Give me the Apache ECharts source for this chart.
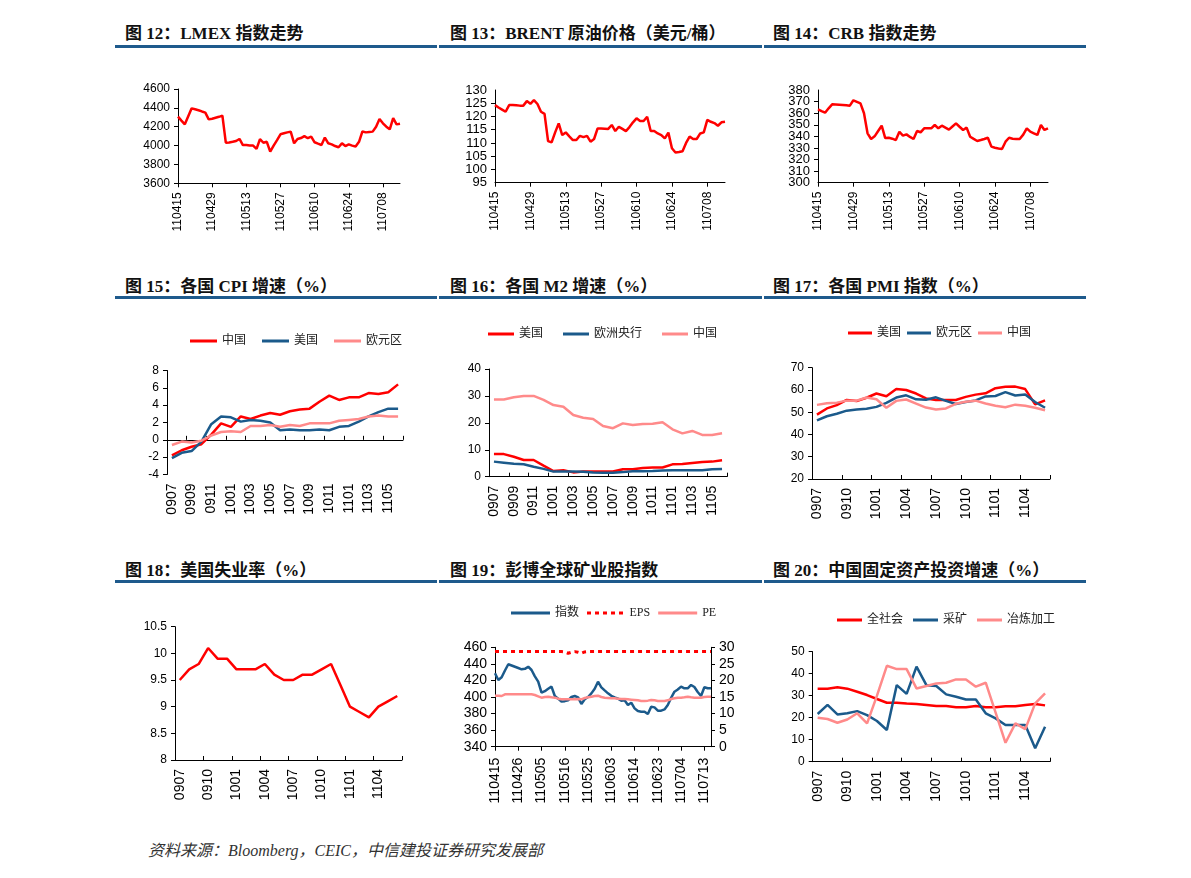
<!DOCTYPE html>
<html>
<head>
<meta charset="utf-8">
<title>商品与宏观指标走势</title>
<script src="https://cdn.jsdelivr.net/npm/echarts@6/dist/echarts.min.js"></script>
<style>
    html, body { margin: 0; padding: 0; background: #fff; }
    #page { position: relative; width: 1191px; height: 878px; overflow: hidden; }
    .title {
        position: absolute; white-space: nowrap; line-height: 18px; color: #111;
        font: bold 17px "Liberation Serif", "Noto Sans CJK SC", serif;
    }
    .rule { position: absolute; height: 3px; background: #1e5a8c; }
    .chart { position: absolute; }
    .note {
        position: absolute; left: 148px; top: 837px; line-height: 18px; color: #333;
        font: italic 16px "Liberation Serif", "Noto Sans CJK SC", serif;
    }
</style>
</head>
<body>
<div id="page">
    <div class="title" style="left:125px;top:19px">图 12：LMEX 指数走势</div>
    <div class="title" style="left:450px;top:19px">图 13：BRENT 原油价格（美元/桶）</div>
    <div class="title" style="left:773px;top:19px">图 14：CRB 指数走势</div>
    <div class="rule" style="left:115px;top:45px;width:322px"></div>
    <div class="rule" style="left:439px;top:45px;width:323px"></div>
    <div class="rule" style="left:764px;top:45px;width:322px"></div>

    <div class="title" style="left:125px;top:272px">图 15：各国 CPI 增速（%）</div>
    <div class="title" style="left:450px;top:272px">图 16：各国 M2 增速（%）</div>
    <div class="title" style="left:773px;top:272px">图 17：各国 PMI 指数（%）</div>
    <div class="rule" style="left:115px;top:296px;width:322px"></div>
    <div class="rule" style="left:439px;top:296px;width:323px"></div>
    <div class="rule" style="left:764px;top:296px;width:322px"></div>

    <div class="title" style="left:125px;top:556px">图 18：美国失业率（%）</div>
    <div class="title" style="left:450px;top:556px">图 19：彭博全球矿业股指数</div>
    <div class="title" style="left:773px;top:556px">图 20：中国固定资产投资增速（%）</div>
    <div class="rule" style="left:115px;top:580px;width:322px"></div>
    <div class="rule" style="left:439px;top:580px;width:323px"></div>
    <div class="rule" style="left:764px;top:580px;width:322px"></div>

    <div class="chart" id="c12" style="left:115px;top:50px;width:320px;height:200px"></div>
    <div class="chart" id="c13" style="left:440px;top:50px;width:320px;height:200px"></div>
    <div class="chart" id="c14" style="left:765px;top:50px;width:320px;height:200px"></div>
    <div class="chart" id="c15" style="left:115px;top:300px;width:320px;height:230px"></div>
    <div class="chart" id="c16" style="left:440px;top:300px;width:320px;height:230px"></div>
    <div class="chart" id="c17" style="left:765px;top:300px;width:320px;height:230px"></div>
    <div class="chart" id="c18" style="left:115px;top:585px;width:320px;height:240px"></div>
    <div class="chart" id="c19" style="left:440px;top:585px;width:320px;height:240px"></div>
    <div class="chart" id="c20" style="left:765px;top:585px;width:320px;height:240px"></div>

    <div class="note">资料来源：Bloomberg，CEIC，中信建投证券研究发展部</div>
</div>
<script>
(function () {
    'use strict';

    /* ------------------------------------------------------------------ */
    /*  Data                                                               */
    /* ------------------------------------------------------------------ */

    // Trading days (weekdays) 2011-04-15 .. 2011-07-15
    var DAYS = [
        '110415', '110418', '110419', '110420', '110421', '110422', '110425', '110426', '110427', '110428', '110429',
        '110502', '110503', '110504', '110505', '110506', '110509', '110510', '110511', '110512', '110513',
        '110516', '110517', '110518', '110519', '110520', '110523', '110524', '110525', '110526', '110527',
        '110530', '110531', '110601', '110602', '110603', '110606', '110607', '110608', '110609', '110610',
        '110613', '110614', '110615', '110616', '110617', '110620', '110621', '110622', '110623', '110624',
        '110627', '110628', '110629', '110630', '110701', '110704', '110705', '110706', '110707', '110708',
        '110711', '110712', '110713', '110714', '110715'
    ];

    var MONTHS = [
        '0907', '0908', '0909', '0910', '0911', '0912', '1001', '1002', '1003', '1004', '1005', '1006',
        '1007', '1008', '1009', '1010', '1011', '1012', '1101', '1102', '1103', '1104', '1105', '1106'
    ];

    var LMEX = [
        4307, 4265, 4225, 4310, 4395, 4385, 4375, 4362, 4350, 4278,
        4285, 4295, 4305, 4317, 4031, 4033, 4040, 4048, 4070, 4006,
        4005, 4000, 4000, 3965, 4068, 4030, 4040, 3935, 4000, 4058,
        4120, 4130, 4140, 4148, 4024, 4070, 4080, 4100, 4078, 4095,
        4035, 4020, 4006, 4085, 4024, 4013, 3995, 3982, 4024, 3995,
        4013, 4000, 3990, 4040, 4150, 4140, 4145, 4148, 4200, 4282,
        4236, 4200, 4172, 4290, 4225, 4232
    ];

    var BRENT = [
        124.3, 123.4, 122.6, 121.8, 124.3, 124.3, 124.2, 124.1, 124.1, 125.8,
        124.8, 126.2, 124.7, 121.8, 121.0, 110.7, 110.2, 114.0, 117.4, 113.0,
        114.0, 112.5, 111.1, 111.1, 112.7, 112.2, 112.7, 110.5, 111.5, 115.5,
        115.5, 115.4, 115.3, 116.8, 114.5, 116.1, 115.3, 114.5, 116.0, 117.8,
        119.3, 118.3, 118.3, 119.9, 114.5, 114.5, 113.6, 113.0, 111.7, 113.9,
        108.0, 106.4, 106.6, 106.9, 110.0, 112.4, 111.5, 111.5, 113.6, 114.0,
        118.7, 118.0, 117.5, 116.5, 117.8, 118.0
    ];

    var CRB = [
        363.3, 361.8, 360.4, 364.2, 367.6, 367.4, 367.2, 367.0, 366.8, 366.5,
        371.1, 369.8, 368.5, 359.9, 342.6, 337.7, 340.0, 344.6, 349.2, 338.5,
        338.8, 338.0, 336.8, 344.0, 340.6, 341.7, 339.5, 337.7, 344.6, 343.5,
        346.9, 346.9, 346.9, 349.8, 346.9, 349.2, 347.5, 345.8, 348.5, 351.2,
        348.3, 345.5, 347.5, 339.7, 337.8, 336.0, 336.8, 337.7, 338.8, 331.1,
        330.2, 329.6, 329.1, 335.4, 338.8, 338.0, 337.7, 337.7, 341.5, 346.9,
        344.0, 342.6, 341.2, 349.8, 345.5, 346.9
    ];

    var CPI_CN = [-1.8, -1.2, -0.8, -0.5, 0.6, 1.9, 1.5, 2.7, 2.4, 2.8, 3.1, 2.9,
                  3.3, 3.5, 3.6, 4.4, 5.1, 4.6, 4.9, 4.9, 5.4, 5.3, 5.5, 6.4];
    var CPI_US = [-2.1, -1.5, -1.3, -0.2, 1.8, 2.7, 2.6, 2.1, 2.3, 2.2, 2.0, 1.1,
                  1.2, 1.1, 1.1, 1.2, 1.1, 1.5, 1.6, 2.1, 2.7, 3.2, 3.6, 3.6];
    var CPI_EZ = [-0.6, -0.2, -0.3, -0.1, 0.5, 0.9, 1.0, 0.9, 1.6, 1.6, 1.7, 1.5,
                  1.7, 1.6, 1.9, 1.9, 1.9, 2.2, 2.3, 2.4, 2.7, 2.8, 2.7, 2.7];

    var M2_US = [8.4, 8.4, 7.4, 6.2, 6.2, 4.1, 2.1, 2.4, 1.6, 1.9, 1.9, 1.9,
                 1.9, 2.8, 2.8, 3.2, 3.4, 3.4, 4.6, 4.7, 5.1, 5.5, 5.6, 6.1];
    var M2_ECB = [5.6, 5.2, 4.8, 4.6, 3.7, 2.9, 1.9, 1.9, 1.9, 1.8, 1.6, 1.5,
                  1.5, 1.7, 2.0, 2.0, 2.1, 2.3, 2.4, 2.4, 2.4, 2.4, 2.8, 2.9];
    var M2_CN = [28.7, 28.7, 29.5, 30.0, 30.0, 28.5, 26.6, 26.0, 22.9, 21.9, 21.4, 18.8,
                 18.0, 19.8, 19.2, 19.6, 19.7, 20.2, 17.6, 16.1, 17.0, 15.5, 15.5, 16.1];

    var PMI_US = [48.9, 51.7, 53.2, 55.5, 55.0, 56.5, 58.4, 57.2, 60.4, 60.0, 58.4, 56.2,
                  55.5, 55.5, 55.5, 56.9, 57.9, 58.5, 60.8, 61.4, 61.5, 60.4, 53.5, 55.3];
    var PMI_EZ = [46.3, 48.2, 49.3, 50.7, 51.2, 51.6, 52.4, 54.2, 56.6, 57.6, 55.8, 55.6,
                  56.7, 55.1, 53.7, 54.6, 55.3, 57.1, 57.3, 59.0, 57.5, 58.0, 54.6, 52.0];
    var PMI_CN = [53.3, 54.0, 54.3, 55.2, 55.2, 56.6, 55.8, 52.0, 55.1, 55.7, 53.9, 52.1,
                  51.2, 51.7, 53.8, 54.7, 55.2, 53.9, 52.9, 52.2, 53.4, 52.9, 52.0, 50.9];

    var UNEMP_US = [9.5, 9.7, 9.8, 10.1, 9.9, 9.9, 9.7, 9.7, 9.7, 9.8, 9.6, 9.5,
                    9.5, 9.6, 9.6, 9.7, 9.8, 9.4, 9.0, 8.9, 8.8, 9.0, 9.1, 9.2];

    var MINING_IDX = [
        428.6, 420.5, 423.8, 432.0, 439.5, 438.0, 436.5, 435.0, 433.4, 434.0,
        436.6, 432.6, 425.0, 418.5, 405.2, 407.0, 410.0, 412.5, 401.2, 398.0,
        394.4, 395.0, 396.0, 400.0, 401.2, 399.6, 391.5, 397.2, 400.0, 404.4,
        410.0, 418.5, 411.7, 408.0, 404.4, 401.5, 399.6, 398.0, 395.6, 396.0,
        390.3, 393.1, 386.3, 383.0, 382.3, 382.3, 379.5, 388.3, 387.5, 383.5,
        383.5, 385.0, 390.3, 399.0, 406.4, 409.0, 412.5, 410.5, 410.5, 414.5,
        412.0, 406.0, 401.2, 411.7, 410.5, 410.5
    ];
    var MINING_EPS = [
        28.7, 28.7, 28.7, 28.7, 28.7, 28.7, 28.7, 28.7, 28.7, 28.7,
        28.7, 28.7, 28.7, 28.7, 28.7, 28.7, 28.7, 28.7, 28.7, 28.7,
        28.7, 28.6, 28.2, 28.5, 28.7, 28.5, 28.2, 28.6, 28.7, 28.7,
        28.7, 28.7, 28.7, 28.7, 28.7, 28.7, 28.7, 28.7, 28.7, 28.7,
        28.7, 28.7, 28.7, 28.7, 28.7, 28.7, 28.7, 28.7, 28.7, 28.7,
        28.7, 28.7, 28.7, 28.7, 28.7, 28.7, 28.7, 28.7, 28.7, 28.7,
        28.7, 28.7, 28.7, 28.7, 28.7, 28.7
    ];
    var MINING_PE = [
        15.4, 15.4, 15.3, 15.8, 15.8, 15.8, 15.8, 15.8, 15.8, 15.8,
        15.8, 15.8, 15.6, 15.2, 14.8, 15.0, 15.1, 14.9, 14.8, 14.5,
        14.3, 14.3, 14.3, 14.3, 14.3, 14.4, 14.3, 14.7, 14.9, 15.1,
        15.3, 15.4, 15.0, 14.8, 14.7, 14.6, 14.6, 14.5, 14.4, 14.4,
        14.3, 14.2, 14.1, 14.0, 13.8, 13.8, 13.9, 14.1, 14.0, 13.8,
        13.8, 13.8, 14.0, 14.4, 14.6, 14.8, 14.8, 14.9, 15.1, 14.9,
        14.8, 14.8, 14.8, 15.0, 15.1, 15.1
    ];

    var FAI_ALL = [33.2, 33.2, 33.8, 33.2, 31.8, 30.3, 28.5, 26.8, 26.8, 26.4, 26.2, 25.8,
                   25.3, 25.3, 24.8, 24.8, 25.3, 24.8, 24.8, 25.2, 25.2, 25.8, 26.2, 25.6];
    var FAI_MINING = [21.7, 25.8, 21.5, 22.0, 23.0, 21.2, 18.5, 14.4, 34.8, 30.8, 43.2, 34.8,
                      34.4, 30.6, 29.5, 28.3, 28.3, 22.0, 19.7, 16.7, 16.7, 16.7, 6.1, 15.9];
    var FAI_SMELT = [20.0, 19.4, 17.7, 19.2, 22.0, 17.4, 30.0, 43.6, 42.1, 42.1, 33.3, 34.4,
                     35.6, 35.9, 37.4, 37.4, 34.1, 35.9, 22.3, 8.6, 17.4, 14.8, 26.5, 31.1];

    /* ------------------------------------------------------------------ */
    /*  Helpers                                                            */
    /* ------------------------------------------------------------------ */

    var RED = '#ff0000';
    var BLUE = '#1b5a8b';
    var PINK = '#ff8a8a';
    var INK = '#000';
    var NUM_FONT = '"Liberation Sans", Arial, sans-serif';
    var TXT_FONT = '"Liberation Serif", "Noto Sans CJK SC", serif';
    var DOTS_ICON = 'path://M0,0h4v3h-4zM8,0h4v3h-4zM16,0h4v3h-4zM24,0h4v3h-4zM32,0h4v3h-4z';

    function xCat(cats, every, o) {
        o = o || {};
        return {
            type: 'category',
            data: cats,
            position: 'bottom',
            boundaryGap: !!o.band,
            axisLine: { show: o.line !== false, onZero: !!o.onZero, lineStyle: { color: INK, width: 1 } },
            axisTick: { show: o.tick !== false, inside: !!o.inside, length: 4, interval: every - 1, lineStyle: { color: INK } },
            axisLabel: {
                show: o.label !== false, interval: every - 1, rotate: 90, margin: o.margin || 9,
                color: INK, fontSize: o.size || 12, fontFamily: NUM_FONT
            },
            splitLine: { show: false }
        };
    }

    function yVal(min, max, step, o) {
        o = o || {};
        return {
            type: 'value', min: min, max: max, interval: step,
            position: o.right ? 'right' : 'left',
            axisLine: { show: true, lineStyle: { color: INK, width: 1 } },
            axisTick: { show: true, length: 4, lineStyle: { color: INK } },
            axisLabel: {
                margin: 8, color: INK, fontSize: o.size || 12, fontFamily: NUM_FONT,
                showMinLabel: true, showMaxLabel: true, hideOverlap: false,
                formatter: function (v) { return String(v); }
            },
            splitLine: { show: false }
        };
    }

    // Tightly packed value axis: ECharts drops the label next to min/max when
    // they touch, so the inner labels and the end labels live on two axes.
    function yDense(min, max, step, o) {
        var inner = yVal(min, max, step, o);
        inner.axisLabel.showMinLabel = false;
        inner.axisLabel.showMaxLabel = false;
        var ends = yVal(min, max, step, o);
        ends.axisLine.show = false;
        ends.axisTick.show = false;
        ends.axisLabel.formatter = function (v) {
            return (v === min || v === max) ? String(v) : '';
        };
        return [inner, ends];
    }

    function line(name, data, color, o) {
        o = o || {};
        return {
            name: name, type: 'line', data: data, symbol: 'none',
            xAxisIndex: 0, yAxisIndex: o.y || 0,
            lineStyle: { color: color, width: o.width || 2.5, type: o.dash || 'solid' },
            itemStyle: { color: color }
        };
    }

    // names: array of [name, dotted?]
    function legend(left, top, width, gap, names) {
        return {
            left: left, top: top, itemWidth: width, itemHeight: 3, itemGap: gap,
            selectedMode: false,
            data: names.map(function (n) {
                return { name: n[0], icon: n[1] ? DOTS_ICON : 'rect' };
            }),
            textStyle: { color: '#222', fontSize: 12, fontFamily: TXT_FONT }
        };
    }

    // plot = [x0, y0, x1, y1] in page pixels
    function draw(id, plot, opt) {
        var el = document.getElementById(id);
        var chart = echarts.init(el);
        opt.animation = false;
        opt.grid = {
            left: plot[0] - el.offsetLeft,
            top: plot[1] - el.offsetTop,
            width: plot[2] - plot[0],
            height: plot[3] - plot[1],
            containLabel: false,
            outerBoundsMode: 'none'
        };
        chart.setOption(opt);
        return chart;
    }

    /* ------------------------------------------------------------------ */
    /*  Charts                                                             */
    /* ------------------------------------------------------------------ */

    draw('c12', [178, 89, 400, 183.3], {
        xAxis: xCat(DAYS, 10),
        yAxis: yVal(3600, 4600, 200),
        series: [line('LMEX', LMEX, RED)]
    });

    draw('c13', [495, 90, 725, 182.7], {
        xAxis: xCat(DAYS, 10),
        yAxis: yDense(95, 130, 5, { size: 13 }),
        series: [line('BRENT', BRENT, RED)]
    });

    draw('c14', [818, 90, 1048, 182.7], {
        xAxis: xCat(DAYS, 10),
        yAxis: yDense(300, 380, 10, { size: 13 }),
        series: [line('CRB', CRB, RED)]
    });

    // Axis line sits on zero; labels stay at the bottom of the plot.
    draw('c15', [167, 370.5, 403, 474.5], {
        legend: legend(70, 30, 27, 16, [['中国'], ['美国'], ['欧元区']]),
        xAxis: [
            xCat(MONTHS, 2, { band: true, onZero: true, inside: true, label: false }),
            xCat(MONTHS, 2, { band: true, line: false, tick: false, size: 14 })
        ],
        yAxis: yVal(-4, 8, 2),
        series: [
            line('中国', CPI_CN, RED),
            line('美国', CPI_US, BLUE),
            line('欧元区', CPI_EZ, PINK)
        ]
    });

    draw('c16', [489, 369, 727, 476.7], {
        legend: legend(43, 23, 26, 20, [['美国'], ['欧洲央行'], ['中国']]),
        xAxis: xCat(MONTHS, 2, { band: true, inside: true, size: 14 }),
        yAxis: yVal(0, 40, 10),
        series: [
            line('美国', M2_US, RED),
            line('欧洲央行', M2_ECB, BLUE),
            line('中国', M2_CN, PINK)
        ]
    });

    draw('c17', [812, 367.7, 1050, 479], {
        legend: legend(78, 22, 24, 6, [['美国'], ['欧元区'], ['中国']]),
        xAxis: xCat(MONTHS, 3, { band: true, inside: true, size: 14 }),
        yAxis: yVal(20, 70, 10),
        series: [
            line('美国', PMI_US, RED),
            line('欧元区', PMI_EZ, BLUE),
            line('中国', PMI_CN, PINK)
        ]
    });

    draw('c18', [175, 626.7, 402, 760], {
        xAxis: xCat(MONTHS, 3, { band: true, inside: true, size: 14 }),
        yAxis: yVal(8, 10.5, 0.5),
        series: [line('失业率', UNEMP_US, RED)]
    });

    draw('c19', [495, 647.3, 711, 746.7], {
        legend: legend(66, 17, 39, 8, [['指数'], ['EPS', true], ['PE']]),
        xAxis: xCat(DAYS, 7, { size: 14, margin: 11 }),
        yAxis: [
            yVal(340, 460, 20, { size: 14 }),
            yVal(0, 30, 5, { size: 14, right: true })
        ],
        series: [
            line('指数', MINING_IDX, BLUE),
            line('EPS', MINING_EPS, RED, { y: 1, dash: [4, 4], width: 3 }),
            line('PE', MINING_PE, PINK, { y: 1 })
        ]
    });

    draw('c20', [812.7, 651.7, 1050, 761.7], {
        legend: legend(67, 24, 25, 10, [['全社会'], ['采矿'], ['冶炼加工']]),
        xAxis: xCat(MONTHS, 3, { band: true, inside: true, size: 14 }),
        yAxis: yVal(0, 50, 10),
        series: [
            line('全社会', FAI_ALL, RED),
            line('采矿', FAI_MINING, BLUE),
            line('冶炼加工', FAI_SMELT, PINK)
        ]
    });
})();
</script>
</body>
</html>
